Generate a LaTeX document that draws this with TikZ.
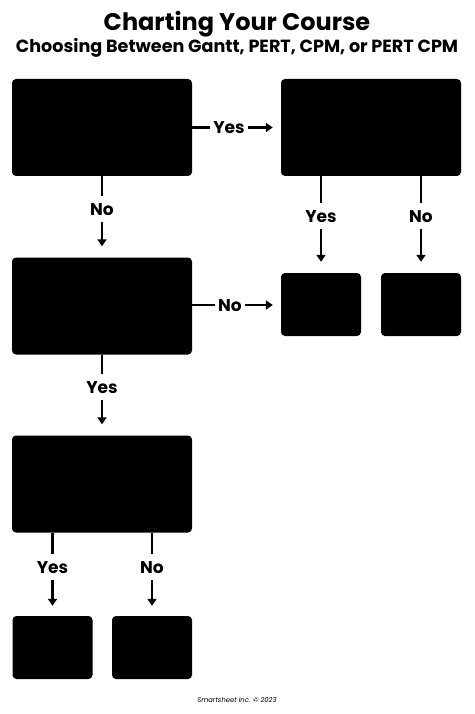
\documentclass[tikz,border=0pt]{standalone}
\usepackage{fontspec}
\setmainfont{Poppins}
\usetikzlibrary{arrows.meta}
\begin{document}
\begin{tikzpicture}[x=1pt,y=-1pt,
  box/.style={rectangle,fill=black,rounded corners=4pt,inner sep=0pt},
  bigbox/.style={box,minimum width=180pt,minimum height=97pt},
  smallbox/.style={box,minimum width=80pt,minimum height=63pt},
  lbl/.style={font=\bfseries\fontsize{17}{17}\selectfont,inner xsep=3pt,inner ysep=7pt,text height=12.5pt,text depth=0pt},
  conn/.style={line width=2.4pt},
  arr/.style={conn,-{Triangle[width=9pt,length=7pt]}},
]
\useasboundingbox (0,0) rectangle (474,714);
\node[anchor=base,font=\bfseries\fontsize{24}{24}\selectfont] (title) at (237,31) {Charting Your Course};
\node[anchor=base,font=\bfseries\fontsize{17.6}{18}\selectfont] (subtitle) at (237,52.5) {Choosing Between Gantt, PERT, CPM, or PERT CPM};

\node[bigbox] (A) at (102,127.5) {};
\node[bigbox] (B) at (371,127.5) {};
\node[bigbox] (C) at (102,306) {};
\node[smallbox] (D) at (321,304.5) {};
\node[smallbox] (E) at (421,304.5) {};
\node[bigbox] (F) at (102,484) {};
\node[smallbox] (G) at (52.5,647.5) {};
\node[smallbox] (H) at (152,647.5) {};

\node[lbl] (yes1) at (229,127.5) {Yes};
\node[lbl] (no1) at (102,209) {No};
\node[lbl] (yes2) at (321,216) {Yes};
\node[lbl] (no2) at (421,216) {No};
\node[lbl] (no3) at (230,305) {No};
\node[lbl] (yes3) at (102,387) {Yes};
\node[lbl] (yes4) at (52.5,567) {Yes};
\node[lbl] (no4) at (152,567) {No};

\draw[conn] (A.east) -- (yes1.west);
\draw[arr,shorten >=8pt] (yes1.east) -- (B.west);
\draw[conn] (A.south) -- (no1.north);
\draw[arr,shorten >=11pt] (no1.south) -- (C.north);
\draw[conn] (yes2.north |- B.south) -- (yes2.north);
\draw[arr,shorten >=11pt] (yes2.south) -- (D.north);
\draw[conn] (no2.north |- B.south) -- (no2.north);
\draw[arr,shorten >=11pt] (no2.south) -- (E.north);
\draw[conn] (C.east |- no3.west) -- (no3.west);
\draw[arr,shorten >=8pt] (no3.east) -- (no3.east -| D.west);
\draw[conn] (C.south) -- (yes3.north);
\draw[arr,shorten >=11pt] (yes3.south) -- (F.north);
\draw[conn] (yes4.north |- F.south) -- (yes4.north);
\draw[arr,shorten >=10pt] (yes4.south) -- (G.north);
\draw[conn] (no4.north |- F.south) -- (no4.north);
\draw[arr,shorten >=10pt] (no4.south) -- (H.north);

\node[anchor=base,font=\itshape\fontsize{6.8}{7}\selectfont] (footer) at (237,702) {Smartsheet Inc. © 2023};
\end{tikzpicture}
\end{document}
